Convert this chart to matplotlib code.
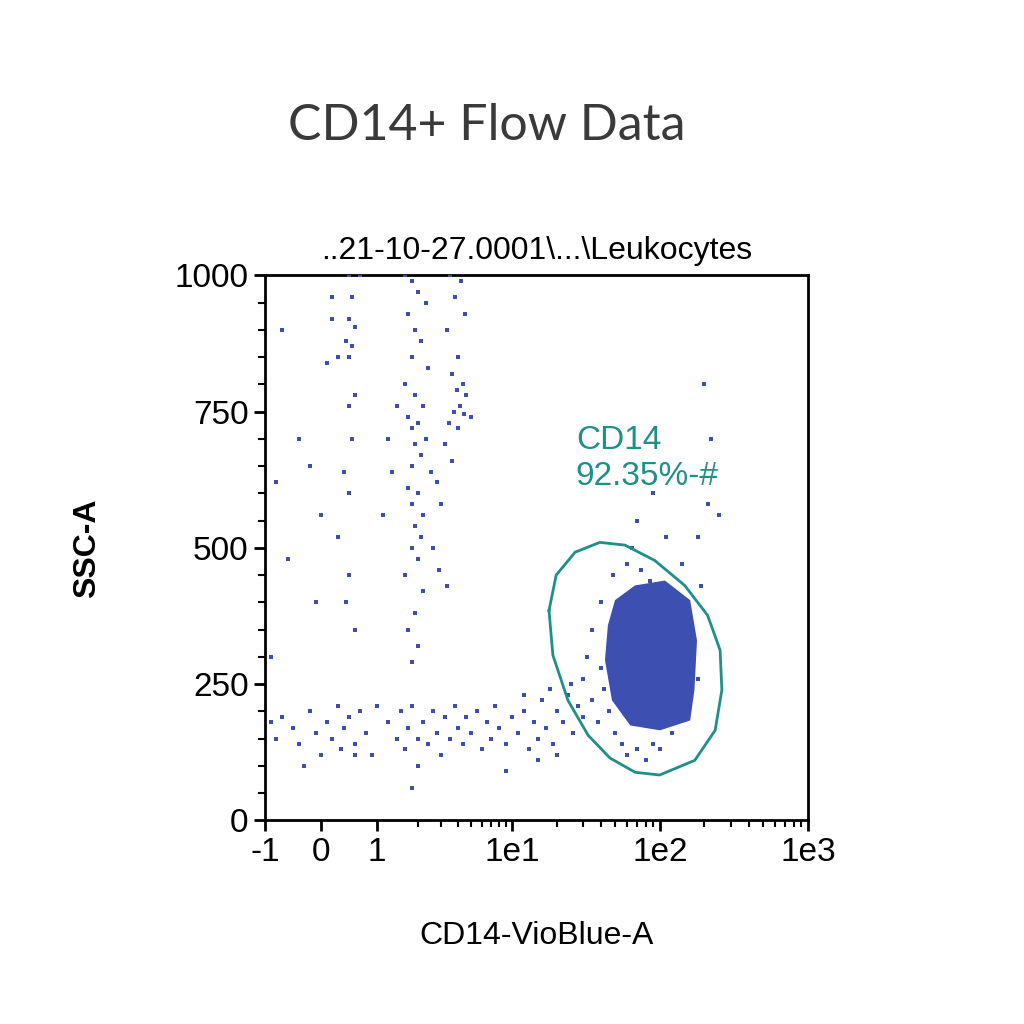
import numpy as np
import matplotlib
matplotlib.use("Agg")
import matplotlib.pyplot as plt

# ---- data ----
scatter_x = [0.5,0.55,0.5,0.6,0.45,0.55,0.5,0.3,0.6,0.5,0.55,0.4,0.5,0.3,0.5,0.45,0.6,0.0,-0.1,0.2,0.2,0.7,
             1.6,1.8,2.0,2.3,1.7,1.9,2.1,1.8,2.4,1.6,1.9,2.2,1.7,2.0,1.8,2.3,1.9,2.1,1.8,2.5,1.7,2.0,1.8,2.2,1.9,2.1,1.8,2.0,1.6,2.2,1.9,1.7,2.0,1.8,1.2,1.4,1.3,1.1,
             3.5,4.2,3.8,4.5,3.3,4.0,3.6,4.3,3.9,4.6,4.1,3.7,4.4,5.0,3.4,4.0,3.2,3.6,2.8,3.0,2.6,2.9,3.3,
             -0.8,-0.6,-0.9,-0.4,-0.2,0.1,-0.7,
             -0.9,-0.8,-0.7,-0.5,-0.4,-0.2,-0.1,0.0,0.1,0.2,0.3,0.35,0.4,0.5,0.6,0.7,0.8,0.9,1.0,1.2,1.4,1.5,1.6,1.7,1.8,2.0,2.2,2.4,2.6,2.8,3.0,3.2,3.5,3.8,4.0,4.3,4.6,5.0,5.5,6.0,6.5,7.0,7.5,8.0,9.0,10,11,12,13,14,15,16,17,18,19,20,22,24,26,28,30,12,2,-0.3,1.8,0.6,9,15,25,20,
             30,32,35,35,38,40,40,42,45,45,48,50,55,55,60,60,65,70,75,80,85,90,95,100,110,120,130,140,150,160,170,180,190,200,210,220,180,250,110,70,90,140]
scatter_y = [1000,960,920,905,880,870,850,850,780,760,700,640,600,520,450,400,350,560,400,960,920,1000,
             1000,990,970,950,930,900,880,850,830,800,780,760,740,730,720,700,690,670,650,640,610,600,580,560,540,520,500,480,450,420,380,350,320,290,700,760,640,560,
             1000,990,960,930,900,850,820,800,790,780,760,750,745,740,730,720,690,660,620,580,500,460,430,
             620,480,300,700,650,840,900,
             180,150,190,170,140,200,160,120,180,150,210,130,170,190,140,200,160,120,210,180,150,200,130,170,210,150,180,140,200,160,120,190,150,210,170,140,190,160,200,130,180,150,210,170,140,190,160,200,130,180,150,220,170,240,140,200,180,230,160,210,190,230,100,100,60,120,90,110,250,120,
             260,300,220,350,180,280,400,240,320,200,450,160,380,140,470,120,500,130,460,110,440,140,420,130,400,160,380,190,350,220,300,260,430,800,580,700,520,560,520,550,600,470]

core_x = [49.7,67.8,108,160,178,171,160,100,63,47.4,42.5,44.5]
core_y = [404,431,440,404,330,239,183,165,174,220,294,358]

gate_x = [17.8,19.9,26.7,39.2,58.0,92,147,210,255,262,236,172,99.5,68,46,32.7,23.9,18.9]
gate_y = [385,450,492,510,505,477,431,376,312,239,165,110,83,88,114,156,220,303]

x_ticks = [-1, 0, 1, 10, 100, 1000]
x_ticklabels = ["-1", "0", "1", "1e1", "1e2", "1e3"]
y_ticks = [0, 250, 500, 750, 1000]

# ---- scale ----
def fwd(x):
    x = np.asarray(x, dtype=float)
    lx = np.log10(np.maximum(x, 1e-9))
    return np.where(x <= 1, x, np.where(x <= 10, 1 + 2.41 * lx, 3.41 + 2.645 * (lx - 1)))

def inv(p):
    p = np.asarray(p, dtype=float)
    return np.where(p <= 1, p, np.where(p <= 3.41, 10 ** ((p - 1) / 2.41),
                                        10 ** (1 + (p - 3.41) / 2.645)))

blue = "#3d4fb0"
teal = "#1f9088"
F = "Liberation Sans"

fig = plt.figure(figsize=(10.24, 10.24), dpi=100)
fig.text(0.475, 0.877, "CD14+ Flow Data", ha="center", va="center",
         fontsize=36, color="#3a3a3a", family="Lato")
ax = fig.add_axes([0.259, 0.199, 0.530, 0.532])
ax.set_xscale("function", functions=(fwd, inv))
ax.set_xlim(-1, 1000)
ax.set_ylim(0, 1000)

ax.fill(core_x + core_x[:1], core_y + core_y[:1], color=blue, lw=0, zorder=2)
ax.scatter(scatter_x, scatter_y, s=6, marker="s", color=blue, lw=0, zorder=3)
ax.plot(gate_x + gate_x[:1], gate_y + gate_y[:1], color=teal, lw=2, zorder=4)
ax.text(27, 725, "CD14\n92.35%-#", color=teal, fontsize=24, va="top", ha="left",
        linespacing=1.2, family=F)

ax.set_xticks(x_ticks)
ax.set_xticklabels(x_ticklabels)
minor = [v * m for v in (1, 10, 100) for m in range(2, 10)]
ax.set_xticks(minor, minor=True)
ax.set_yticks(y_ticks)
ax.set_yticks(np.arange(0, 1001, 50), minor=True)
ax.tick_params(which="major", direction="out", length=8, width=2, labelsize=24, pad=4)
ax.tick_params(which="minor", direction="out", length=5, width=1.5)
for lab in ax.get_xticklabels() + ax.get_yticklabels():
    lab.set_family(F)
for s in ax.spines.values():
    s.set_linewidth(2)
ax.set_title("..21-10-27.0001\\...\\Leukocytes", fontsize=23, family=F, pad=12)
ax.set_xlabel("CD14-VioBlue-A", fontsize=23, family=F, labelpad=38)
ax.set_ylabel("SSC-A", fontsize=23, family=F, fontweight="bold", labelpad=52)
fig.savefig("out.png", dpi=100)
